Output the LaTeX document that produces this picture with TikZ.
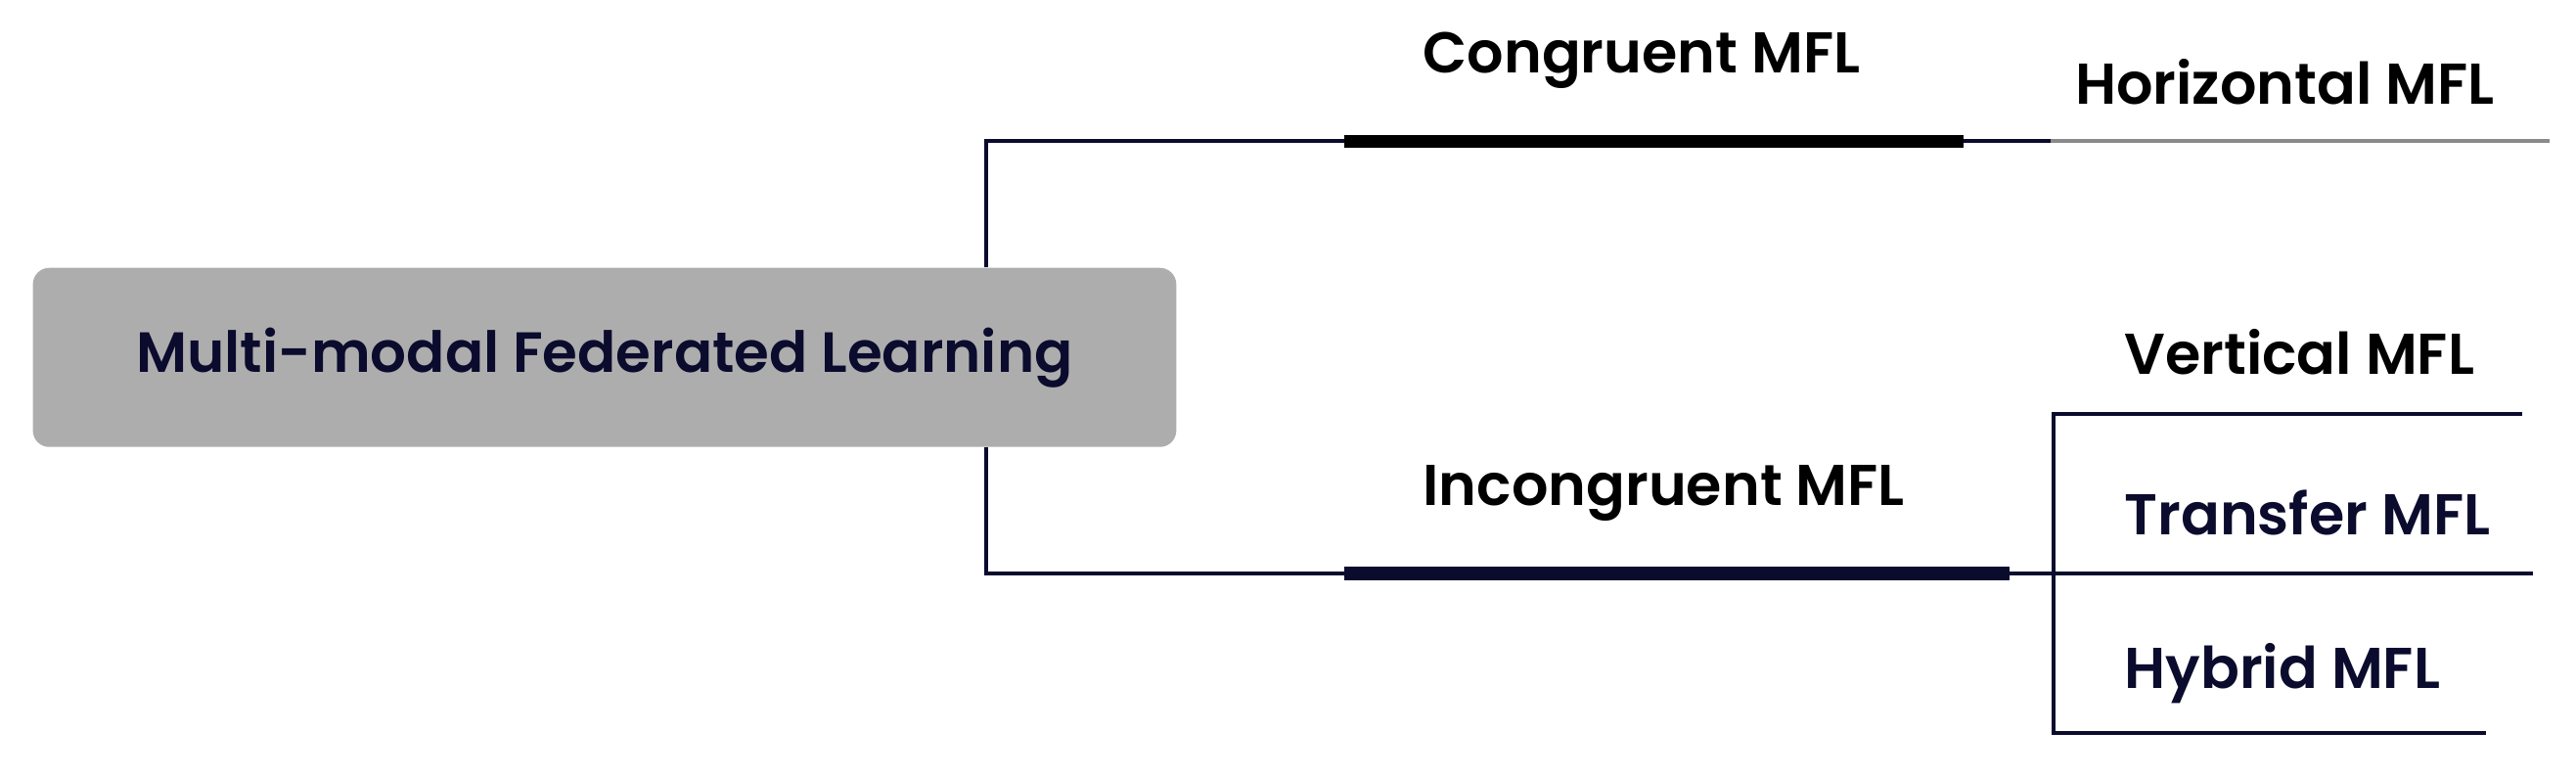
\documentclass[tikz,border=0pt]{standalone}
\usepackage{fontspec}
\setmainfont{Poppins}[BoldFont={Poppins SemiBold}]
\definecolor{navy}{HTML}{0B0B2E}
\definecolor{boxgray}{HTML}{ADADAD}
\begin{document}
\begin{tikzpicture}[x=1pt,y=-1pt,
  lbl/.style={anchor=west,inner sep=0pt,font=\fontsize{35}{40}\selectfont\bfseries},
  thin/.style={line width=2.4pt,navy},
  bar/.style={line width=8pt}]
\useasboundingbox (0,0) rectangle (1568,473);
\node[fill=boxgray,rounded corners=10pt,minimum width=696pt,minimum height=109pt,inner sep=0pt,
  text=navy,font=\fontsize{34.5}{40}\selectfont\bfseries] (root) at (368,217.5) {Multi-modal Federated Learning};
\coordinate (t) at (600,86);
\coordinate (b) at (600,349);
\draw[thin] (root.north -| t) -- (t) -- (818,86) coordinate (cs);
\draw[bar,black] (cs) -- (1195,86) coordinate (ce);
\draw[thin] (ce) -- (1248,86) coordinate (hs);
\draw[line width=2.4pt,boxgray!80!black] (hs) -- (1552,86) coordinate (he);
\draw[thin] (root.south -| b) -- (b) -- (818,349) coordinate (is);
\draw[bar,navy] (is) -- (1223,349) coordinate (ie);
\draw[thin] (ie) -- (1250,349) coordinate (j);
\draw[thin] (1535,252) coordinate (v) -- (1250,252) -- (1250,446) -- (1513,446) coordinate (h);
\draw[thin] (j) -- (1542,349) coordinate (tr);
\node[lbl,black] (cong) at (866,37) {Congruent MFL};
\node[lbl,black] (hor) at (1263,50) {Horizontal MFL};
\node[lbl,black] (ver) at (1293,214) {Vertical MFL};
\node[lbl,black] (inc) at (866,300) {Incongruent MFL};
\node[lbl,navy] (tra) at (1293,312) {Transfer MFL};
\node[lbl,navy] (hyb) at (1293,410) {Hybrid MFL};
\end{tikzpicture}
\end{document}
